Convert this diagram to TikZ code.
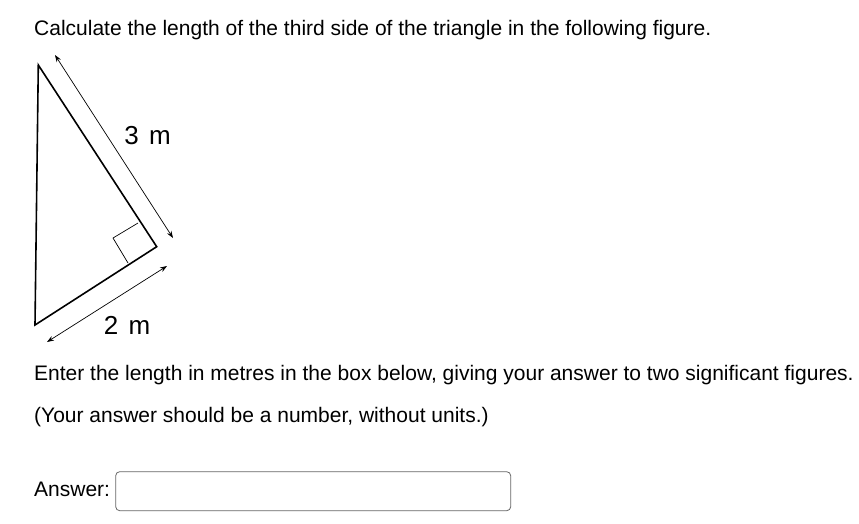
\documentclass[tikz,border=0pt]{standalone}
\usepackage{fontspec}
\setmainfont{Liberation Sans}
\usetikzlibrary{arrows.meta}
\begin{document}
\begin{tikzpicture}[x=1pt,y=-1pt,
  txt/.style={anchor=base west,inner sep=0pt,font=\fontsize{21}{24}\selectfont},
  lbl/.style={inner sep=0pt,font=\fontsize{26}{28}\selectfont},
  side/.style={line width=1.6pt,line join=miter},
  dim/.style={line width=0.7pt,{Stealth[length=7pt,width=5pt]}-{Stealth[length=7pt,width=5pt]}},
  rightmark/.style={line width=0.7pt}]
\useasboundingbox (0,0) rectangle (859,523);
\fill[white] (0,0) rectangle (859,523);
\node[txt] (q) at (34,35.3) {Calculate the length of the third side of the triangle in the following figure.};
\coordinate (A) at (38.3,65);
\coordinate (B) at (156.7,246.7);
\coordinate (C) at (35,325);
\draw[side] (A) -- (B) -- (C) -- cycle;
\coordinate (s1) at (138,223);
\coordinate (s2) at (113,238);
\coordinate (s3) at (128,263);
\draw[rightmark] (s1) -- (s2) -- (s3);
\coordinate (d1) at (55,55);
\coordinate (d2) at (173,238);
\draw[dim] (d1) -- (d2);
\coordinate (e1) at (167,266);
\coordinate (e2) at (47,342);
\draw[dim] (e1) -- (e2);
\node[lbl] (l3) at (147.5,136) {3\hspace{3pt} m};
\node[lbl] (l2) at (127,325.5) {2\hspace{3pt} m};
\node[txt] (t1) at (34,380.7) {Enter the length in metres in the box below, giving your answer to two significant figures.};
\node[txt] (t2) at (34,422.3) {(Your answer should be a number, without units.)};
\node[txt] (t3) at (34,496.7) {Answer:};
\draw[rounded corners=4pt,line width=0.8pt,draw=black!60] (115.7,471.7) rectangle (510.7,510.7);
\end{tikzpicture}
\end{document}
